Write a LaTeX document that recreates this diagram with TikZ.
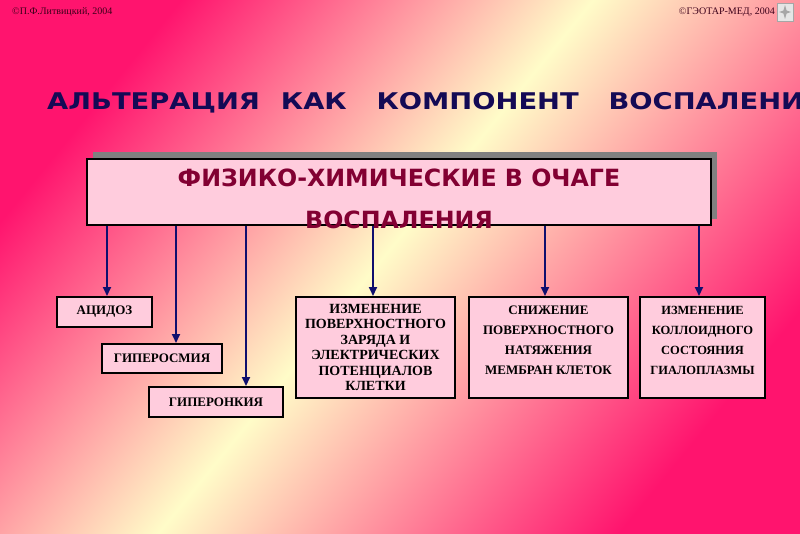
\documentclass[tikz,border=0pt]{standalone}
\usepackage{fontspec}
\setmainfont{Liberation Serif}
\newfontfamily\headfont{DejaVu Sans}
\usetikzlibrary{arrows.meta}

\definecolor{bgpink}{RGB}{255,20,110}
\definecolor{bgcream}{RGB}{255,252,200}
\definecolor{boxpink}{RGB}{255,204,221}
\definecolor{titlenavy}{RGB}{20,10,85}
\definecolor{chemred}{RGB}{130,0,50}
\definecolor{arrnavy}{RGB}{15,15,110}
\definecolor{shadowgray}{RGB}{128,128,128}
\definecolor{notedark}{RGB}{60,0,25}

\pgfdeclarehorizontalshading{bgshade}{100bp}{color(0bp)=(bgpink); color(25bp)=(bgpink); color(48.6bp)=(bgcream); color(75bp)=(bgpink); color(100bp)=(bgpink)}

\begin{document}
\begin{tikzpicture}[x=1pt,y=-1pt,
    cell/.style={draw=black, line width=2pt, fill=boxpink, inner sep=0pt, align=center,
      font=\bfseries\fontsize{13}{15.4}\selectfont},
    note/.style={inner sep=0pt, text=notedark, font=\fontsize{10}{10}\selectfont},
    link/.style={arrnavy, line width=2pt, -{Triangle[length=9pt,width=8pt]}}]

    % Background
    \useasboundingbox (0,0) rectangle (800,533);
    \shade[shading=bgshade, shading angle=-39.2] (0,0) rectangle (800,533);

    % Corner notes
    \node[note, anchor=west] (authnote) at (12,12) {©П.Ф.Литвицкий, 2004};
    \node[note, anchor=east] (pubnote) at (775,12) {©ГЭОТАР-МЕД, 2004};
    \draw[fill=gray!20, draw=gray!70] (777,3) rectangle (793,21);
    \fill[gray!70] (785,5) -- (787,12) -- (785,19) -- (783,12) -- cycle;
    \fill[gray!70] (779,12) -- (785,10) -- (791,12) -- (785,14) -- cycle;

    % Title (runs off the right edge, as in the slide)
    \node[anchor=west, inner sep=0pt, xscale=1.19, text=titlenavy, font=\headfont\bfseries\fontsize{23}{23}\selectfont]
      (title) at (47,103) {АЛЬТЕРАЦИЯ\hspace{17.6pt}КАК\hspace{25pt}КОМПОНЕНТ\hspace{25pt}ВОСПАЛЕНИЯ};

    % Main box with shadow
    \fill[shadowgray] (93,152) rectangle (717,219);
    \node[cell, minimum width=624pt, minimum height=66pt] (chem) at (399,192) {};

    % Lower boxes
    \node[cell, minimum width=95pt, minimum height=30pt] (acid) at (104.5,312) {АЦИДОЗ};
    \node[cell, minimum width=120pt, minimum height=29pt] (osm) at (162,358.5) {ГИПЕРОСМИЯ};
    \node[cell, minimum width=134pt, minimum height=30pt] (onc) at (216,402) {ГИПЕРОНКИЯ};
    \node[cell, minimum width=159pt, minimum height=101pt, font=\bfseries\fontsize{14}{15.4}\selectfont]
      (surf) at (375.5,347.5)
      {ИЗМЕНЕНИЕ\\ПОВЕРХНОСТНОГО\\ЗАРЯДА И\\ЭЛЕКТРИЧЕСКИХ\\ПОТЕНЦИАЛОВ\\КЛЕТКИ};
    \node[cell, minimum width=159pt, minimum height=101pt, text depth=14pt,
      font=\bfseries\fontsize{13}{20}\selectfont] (tens) at (548.5,347.5)
      {СНИЖЕНИЕ\\ПОВЕРХНОСТНОГО\\НАТЯЖЕНИЯ\\МЕМБРАН КЛЕТОК};
    \node[cell, minimum width=125pt, minimum height=101pt, text depth=14pt,
      font=\bfseries\fontsize{12.5}{20}\selectfont] (coll) at (702.5,347.5)
      {ИЗМЕНЕНИЕ\\КОЛЛОИДНОГО\\СОСТОЯНИЯ\\ГИАЛОПЛАЗМЫ};

    % Connectors
    \coordinate (acidin) at ([xshift=2.5pt]acid.north);
    \coordinate (osmin) at ([xshift=14pt]osm.north);
    \coordinate (oncin) at ([xshift=30pt]onc.north);
    \coordinate (surfin) at ([xshift=-2.5pt]surf.north);
    \coordinate (tensin) at ([xshift=-3.5pt]tens.north);
    \coordinate (collin) at ([xshift=-3.5pt]coll.north);
    \foreach \tgt in {acidin,osmin,oncin,surfin,tensin,collin}
      \draw[link] (chem.south -| \tgt) -- (\tgt);

    % Main box text
    \node[align=center, text=chemred, font=\headfont\bfseries\fontsize{23.7}{42}\selectfont]
      (chemtext) at (399,199) {ФИЗИКО-ХИМИЧЕСКИЕ В ОЧАГЕ\\ВОСПАЛЕНИЯ};

\end{tikzpicture}
\end{document}
